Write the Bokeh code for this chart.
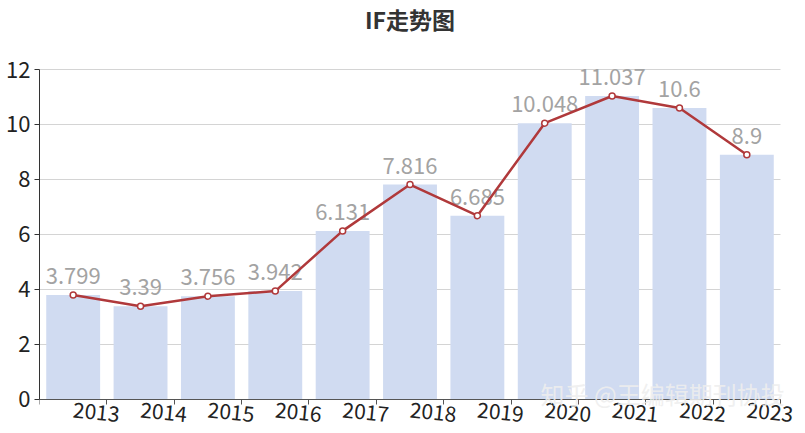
import numpy as np
from bokeh.plotting import figure
from bokeh.models import ColumnDataSource, FixedTicker, Range1d, Label
from bokeh.core.properties import value
from bokeh.embed import file_html
from bokeh.resources import INLINE

years = ["2013", "2014", "2015", "2016", "2017", "2018", "2019", "2020", "2021", "2022", "2023"]
impact = [3.799, 3.39, 3.756, 3.942, 6.131, 7.816, 6.685, 10.048, 11.037, 10.6, 8.9]
value_labels = ["3.799", "3.39", "3.756", "3.942", "6.131", "7.816", "6.685", "10.048", "11.037", "10.6", "8.9"]
y_ticks = [0, 2, 4, 6, 8, 10, 12]
title_text = "IF走势图"
watermark_text = "知乎 @王编辑期刊协投"

FONT = "Noto Sans CJK SC"
n = len(years)
idx = np.arange(n)
src = ColumnDataSource(dict(x=idx + 0.5, y=impact, lab=value_labels))

# frame spans the whole canvas except the y-axis panel; value axis 0..12, category axis 0..n
p = figure(width=805, height=433, output_backend="svg", toolbar_location=None,
           x_range=Range1d(0, 11.371), y_range=Range1d(-1.2364, 14.5091),
           min_border_left=39, min_border_right=0, min_border_top=0, min_border_bottom=0)
p.outline_line_color = None
p.background_fill_color = "white"
p.border_fill_color = "white"

# horizontal grid lines limited to the category span
p.segment(x0=0, x1=n, y0=y_ticks, y1=y_ticks, line_color="#d4d4d4", line_width=1)
p.xgrid.grid_line_color = None
p.ygrid.grid_line_color = None

p.vbar(x="x", top="y", bottom=0, width=0.8, source=src, fill_color="#d0dbf1", line_color=None)
p.text(x="x", y="y", text="lab", source=src, text_align="center", text_baseline="bottom",
       y_offset=-11, text_font=value(FONT), text_font_size="22px", text_color="#a3a3a3")
p.line(x="x", y="y", source=src, line_color="#b0393b", line_width=2.5)
p.scatter(x="x", y="y", source=src, size=6, fill_color="white", line_color="#b0393b", line_width=1.5)

# x axis at value 0: labels start at bar centres, boundary ticks as minor ticks
xa = p.xaxis[0]
xa.fixed_location = 0
xa.bounds = (0, n)
label_pos = [float(i + 0.5) for i in idx]
xa.ticker = FixedTicker(ticks=label_pos, minor_ticks=list(range(n + 1)))
xa.major_label_overrides = {t: y for t, y in zip(label_pos, years)}
xa.major_tick_line_color = None
xa.minor_tick_out = 5
xa.minor_tick_in = 0
xa.minor_tick_line_color = "#555555"
xa.axis_line_color = "#555555"
xa.major_label_orientation = -0.1
xa.major_label_text_font = FONT
xa.major_label_text_font_size = "21px"
xa.major_label_text_color = "#222222"
xa.major_label_standoff = 4

ya = p.yaxis[0]
ya.ticker = FixedTicker(ticks=y_ticks)
ya.bounds = (0, 12)
ya.axis_line_color = "#333333"
ya.major_tick_line_color = "#333333"
ya.major_tick_out = 5
ya.major_tick_in = 0
ya.minor_tick_line_color = None
ya.major_label_text_font = FONT
ya.major_label_text_font_size = "22px"
ya.major_label_text_color = "#222222"
ya.major_label_standoff = 4

p.add_layout(Label(x=n / 2, y=13.85, text=title_text, text_align="center", text_baseline="middle",
                   text_font=FONT, text_font_size="23px", text_font_style="bold", text_color="#333333"))

p.add_layout(Label(x=9.25, y=0.2, text=watermark_text, text_align="center", text_baseline="middle",
                   text_font=FONT, text_font_size="24px", text_color="#eeeeee", text_alpha=0.9))

open("out.html", "w").write(file_html(p, INLINE))
